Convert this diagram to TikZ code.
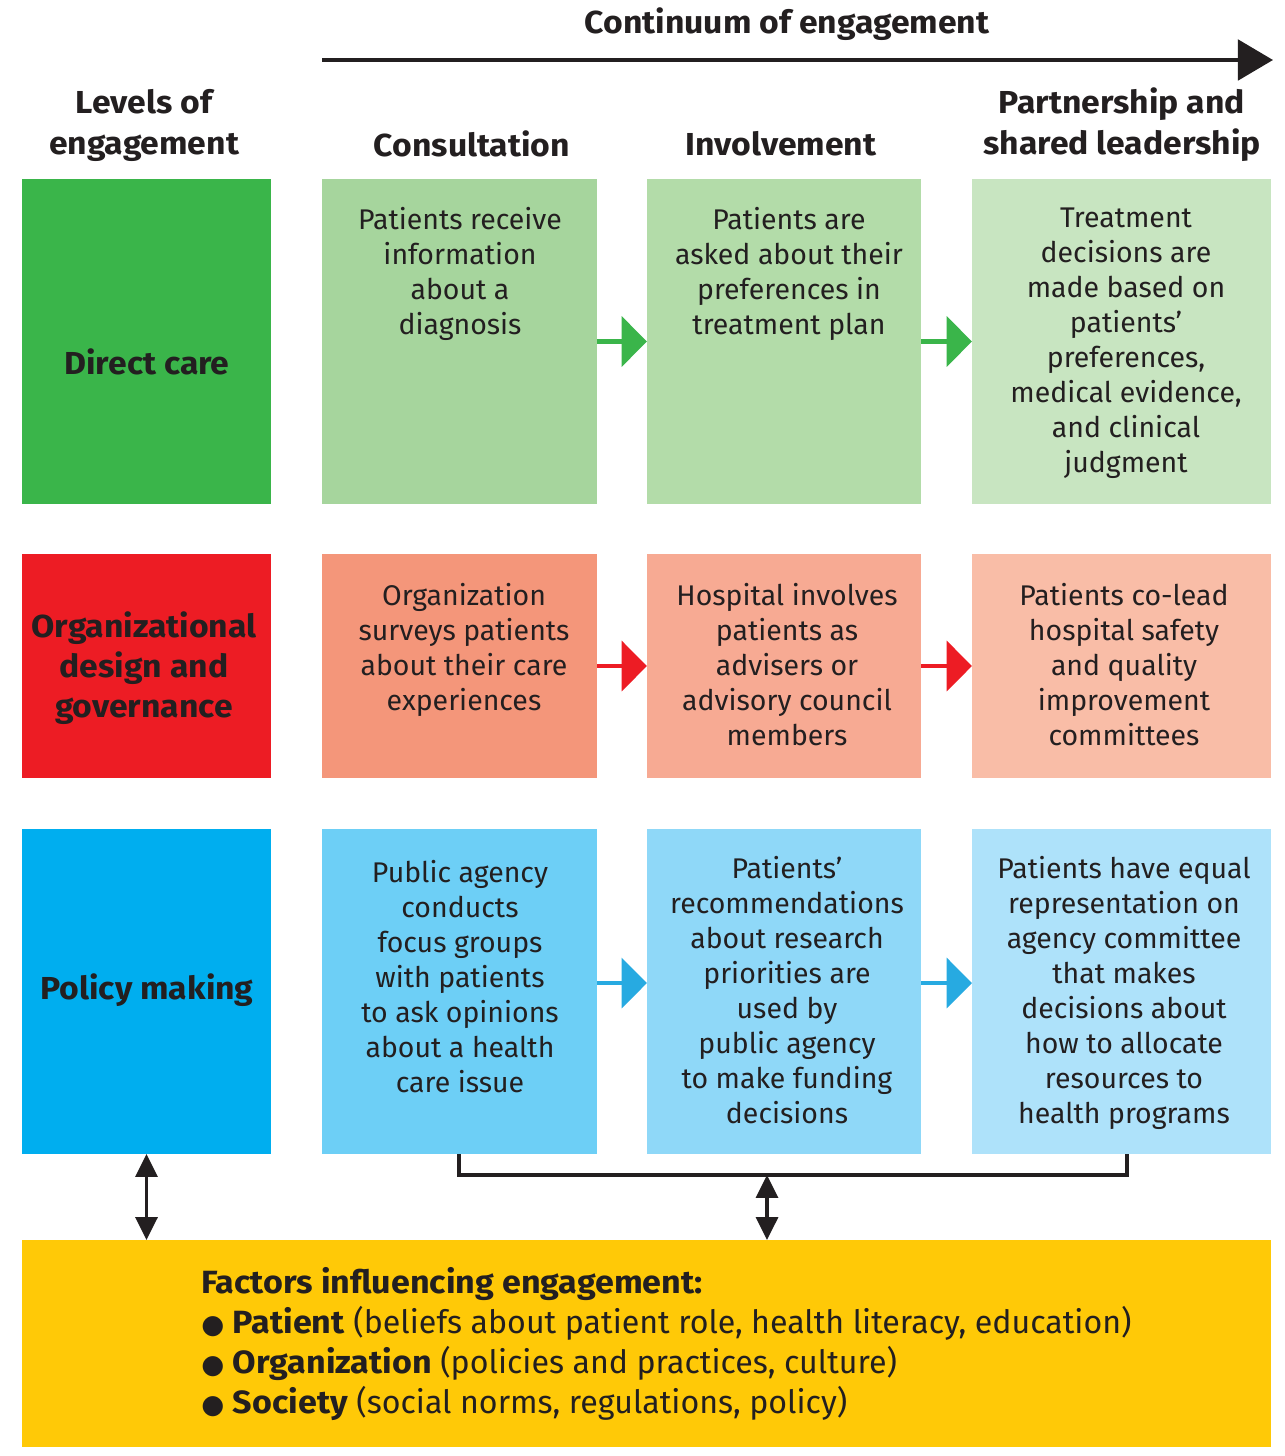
\documentclass[tikz,border=0pt]{standalone}
\usepackage{fontspec}
\setmainfont{Fira Sans}[BoldFeatures={FakeStretch=1.06}]
\newfontfamily\symfont{DejaVu Sans}
\usetikzlibrary{arrows.meta,fit}
\definecolor{txt}{HTML}{231F20}
\definecolor{dcgreen}{HTML}{3AB54A}
\definecolor{dcA}{HTML}{A6D59D}
\definecolor{dcB}{HTML}{B3DCA9}
\definecolor{dcC}{HTML}{C8E5C1}
\definecolor{orgred}{HTML}{ED1C24}
\definecolor{orA}{HTML}{F4967A}
\definecolor{orB}{HTML}{F7AA93}
\definecolor{orC}{HTML}{F9BDA7}
\definecolor{polblue}{HTML}{00AEEF}
\definecolor{pbA}{HTML}{6DCFF6}
\definecolor{pbB}{HTML}{8FD8F8}
\definecolor{pbC}{HTML}{AEE2FA}
\definecolor{barrow}{HTML}{27AAE1}
\definecolor{yel}{HTML}{FFC907}
\begin{document}
\begin{tikzpicture}[x=0.02cm,y=-0.02cm,
  every node/.style={text=txt},
  cell/.style={inner sep=0pt, outer sep=0pt, draw=none},
  body/.style={align=center, anchor=north, inner sep=0pt, font=\fontsize{16.2}{19.9}\selectfont},
  head/.style={align=center, inner sep=0pt, font=\bfseries\fontsize{18.1}{23.3}\selectfont},
  side/.style={align=center, inner sep=0pt, font=\bfseries\fontsize{18.1}{22.8}\selectfont},
  flow/.style={line width=2.3pt, -{Triangle[length=14.5pt,width=28.5pt]}},
  dbl/.style={line width=1.8pt, draw=txt, {Triangle[length=13pt,width=12.5pt]}-{Triangle[length=13pt,width=12.5pt]}},
]
\useasboundingbox (0,0) rectangle (1284,1456);
\fill[white] (0,0) rectangle (1284,1456);

% top arrow
\node[head, font=\bfseries\fontsize{18.1}{20}\selectfont] (cont) at (787,24) {Continuum of engagement};
\coordinate (ts) at (322,60);
\coordinate (te) at (1273,60);
\draw[txt, line width=2.4pt, -{Triangle[length=20pt,width=23pt]}] (ts) -- (te);

% column headers
\node[head] (hlev) at (144,125) {Levels of\\engagement};
\node[head] (hcon) at (472,144) {Consultation};
\node[head] (hinv) at (781,144) {Involvement};
\node[head] (hpar) at (1122,125) {Partnership and\\shared leadership};

% level boxes
\node[cell, fill=dcgreen, fit={(22,179)(271,504)}] (ldc) {};
\node[cell, fill=orgred, fit={(22,554)(271,778)}] (lor) {};
\node[cell, fill=polblue, fit={(22,829)(271,1154)}] (lpo) {};
\node[side] (tdc) at (147,362) {Direct care};
\node[side] (tor) at (144,668) {Organizational\\design and\\governance};
\node[side] (tpo) at (147,990) {Policy making};

% direct care row
\node[cell, fill=dcA, fit={(322,179)(597,504)}] (dA) {};
\node[cell, fill=dcB, fit={(647,179)(921,504)}] (dB) {};
\node[cell, fill=dcC, fit={(972,179)(1271,504)}] (dC) {};
\node[body] (dAt) at (460,207) {Patients receive\\information\\about a\\diagnosis};
\node[body] (dBt) at (789,207) {Patients are\\asked about their\\preferences in\\treatment plan};
\node[body] (dCt) at (1126,208) {Treatment\\decisions are\\made based on\\patients’\\preferences,\\medical evidence,\\and clinical\\judgment};
\draw[flow, draw=dcgreen, fill=dcgreen] (dA.east) -- (dB.west);
\draw[flow, draw=dcgreen, fill=dcgreen] (dB.east) -- (dC.west);

% organizational row
\node[cell, fill=orA, fit={(322,554)(597,778)}] (oA) {};
\node[cell, fill=orB, fit={(647,554)(921,778)}] (oB) {};
\node[cell, fill=orC, fit={(972,554)(1271,778)}] (oC) {};
\node[body] (oAt) at (464,583) {Organization\\surveys patients\\about their care\\experiences};
\node[body] (oBt) at (787,583) {Hospital involves\\patients as\\advisers or\\advisory council\\members};
\node[body] (oCt) at (1124,583) {Patients co-lead\\hospital safety\\and quality\\improvement\\committees};
\draw[flow, draw=orgred, fill=orgred] (oA.east) -- (oB.west);
\draw[flow, draw=orgred, fill=orgred] (oB.east) -- (oC.west);

% policy row
\node[cell, fill=pbA, fit={(322,829)(597,1154)}] (pA) {};
\node[cell, fill=pbB, fit={(647,829)(921,1154)}] (pB) {};
\node[cell, fill=pbC, fit={(972,829)(1271,1154)}] (pC) {};
\node[body] (pAt) at (460,860) {Public agency\\conducts\\focus groups\\with patients\\to ask opinions\\about a health\\care issue};
\node[body] (pBt) at (787,856) {Patients’\\recommendations\\about research\\priorities are\\used by\\public agency\\to make funding\\decisions};
\node[body] (pCt) at (1124,856) {Patients have equal\\representation on\\agency committee\\that makes\\decisions about\\how to allocate\\resources to\\health programs};
\coordinate (py) at (0,983);
\draw[flow, draw=barrow, fill=barrow] (pA.east |- py) -- (pB.west |- py);
\draw[flow, draw=barrow, fill=barrow] (pB.east |- py) -- (pC.west |- py);

% factors box
\node[cell, fill=yel, fit={(22,1240)(1271,1447)}] (fac) {};
\node[anchor=north west, align=left, inner sep=0pt, font=\fontsize{18.3}{22.8}\selectfont] (fact) at (201,1267)
  {\textbf{Factors influencing engagement:}\\
   {\symfont\fontsize{15}{15}\selectfont ●} \textbf{Patient} (beliefs about patient role, health literacy, education)\\
   {\symfont\fontsize{15}{15}\selectfont ●} \textbf{Organization} (policies and practices, culture)\\
   {\symfont\fontsize{15}{15}\selectfont ●} \textbf{Society} (social norms, regulations, policy)};

% bracket and connectors
\coordinate (brL) at (459,1175);
\coordinate (brR) at (1127,1175);
\draw[txt, line width=1.8pt] (pA.south -| brL) -- (brL) -- (brR) -- (pC.south -| brR);
\coordinate (mid) at (767,1175);
\draw[dbl] (mid) -- (mid |- fac.north);
\draw[dbl] (lpo.south) -- (lpo.south |- fac.north);
\end{tikzpicture}
\end{document}
